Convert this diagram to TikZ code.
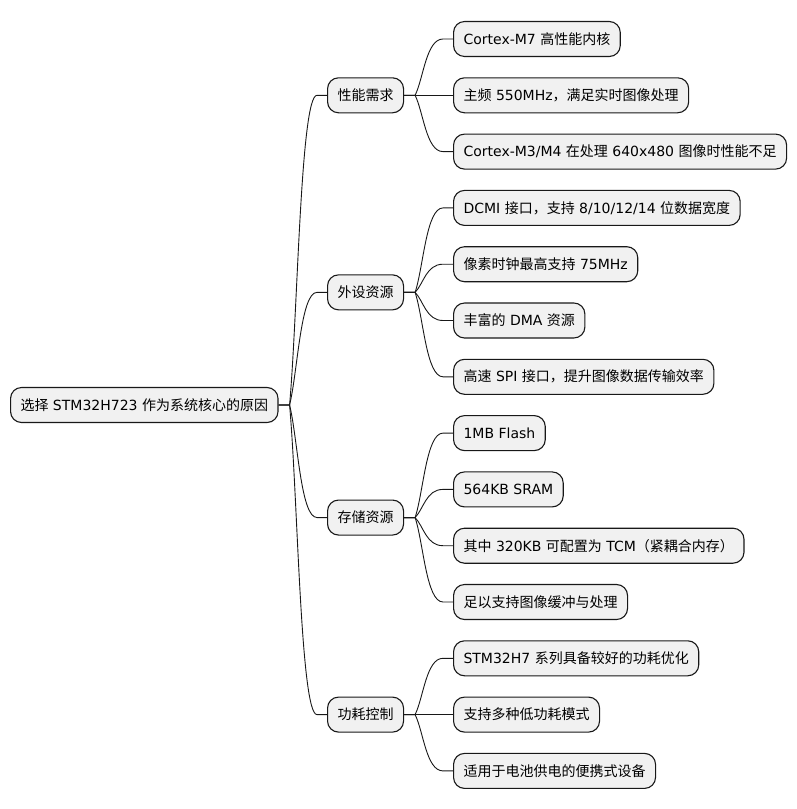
\documentclass[tikz,border=0pt]{standalone}
\usepackage{fontspec}
\setmainfont{DejaVu Sans}
\newfontfamily\cjk{Noto Sans CJK SC}
\newcommand\C[1]{{\cjk #1}}
\usetikzlibrary{calc}
\definecolor{boxfill}{HTML}{F1F1F1}
\definecolor{boxline}{HTML}{181818}
\tikzset{
  mmbox/.style={draw=boxline, fill=boxfill, line width=1.1pt, rounded corners=11pt,
    minimum height=35pt, inner xsep=10pt, inner ysep=0pt, anchor=west,
    font=\fontsize{14pt}{17pt}\selectfont},
  conn/.style={draw=boxline, line width=0.9pt},
}
\newcommand\conn[2]{%
  \draw[conn] let \p1=(#1.east), \p2=(#2.west) in
    (\p1) -- (\x1+11pt,\y1)
    .. controls ({\x1+11pt+0.3*(\x2-\x1-21pt)},{\y1+0.3*(\y2-\y1)})
    and ({\x2-10pt-0.6*(\x2-\x1-21pt)},\y2) ..
    (\x2-10pt,\y2) -- (\p2);}
\begin{document}
\begin{tikzpicture}[x=1pt,y=-1pt]
\useasboundingbox (0,0) rectangle (797,809);
\node[mmbox] (root) at (10,405) {\C{选择} STM32H723 \C{作为系统核心的原因}};
\node[mmbox] (p) at (327,95.3) {\C{性能需求}};
\node[mmbox] (w) at (327,292.35) {\C{外设资源}};
\node[mmbox] (s) at (327,517.55) {\C{存储资源}};
\node[mmbox] (g) at (327,714.6) {\C{功耗控制}};
\node[mmbox] (p1) at (453,39) {Cortex-M7 \C{高性能内核}};
\node[mmbox] (p2) at (453,95.3) {\C{主频} 550MHz\C{，满足实时图像处理}};
\node[mmbox] (p3) at (453,151.6) {Cortex-M3/M4 \C{在处理} 640x480 \C{图像时性能不足}};
\node[mmbox] (w1) at (453,207.9) {DCMI \C{接口，支持} 8/10/12/14 \C{位数据宽度}};
\node[mmbox] (w2) at (453,264.2) {\C{像素时钟最高支持} 75MHz};
\node[mmbox] (w3) at (453,320.5) {\C{丰富的} DMA \C{资源}};
\node[mmbox] (w4) at (453,376.8) {\C{高速} SPI \C{接口，提升图像数据传输效率}};
\node[mmbox] (s1) at (453,433.1) {1MB Flash};
\node[mmbox] (s2) at (453,489.4) {564KB SRAM};
\node[mmbox] (s3) at (453,545.7) {\C{其中} 320KB \C{可配置为} TCM\C{（紧耦合内存）}};
\node[mmbox] (s4) at (453,602) {\C{足以支持图像缓冲与处理}};
\node[mmbox] (g1) at (453,658.3) {STM32H7 \C{系列具备较好的功耗优化}};
\node[mmbox] (g2) at (453,714.6) {\C{支持多种低功耗模式}};
\node[mmbox] (g3) at (453,770.9) {\C{适用于电池供电的便携式设备}};
\conn{root}{p}\conn{root}{w}\conn{root}{s}\conn{root}{g}
\conn{p}{p1}\conn{p}{p2}\conn{p}{p3}
\conn{w}{w1}\conn{w}{w2}\conn{w}{w3}\conn{w}{w4}
\conn{s}{s1}\conn{s}{s2}\conn{s}{s3}\conn{s}{s4}
\conn{g}{g1}\conn{g}{g2}\conn{g}{g3}
\end{tikzpicture}
\end{document}
